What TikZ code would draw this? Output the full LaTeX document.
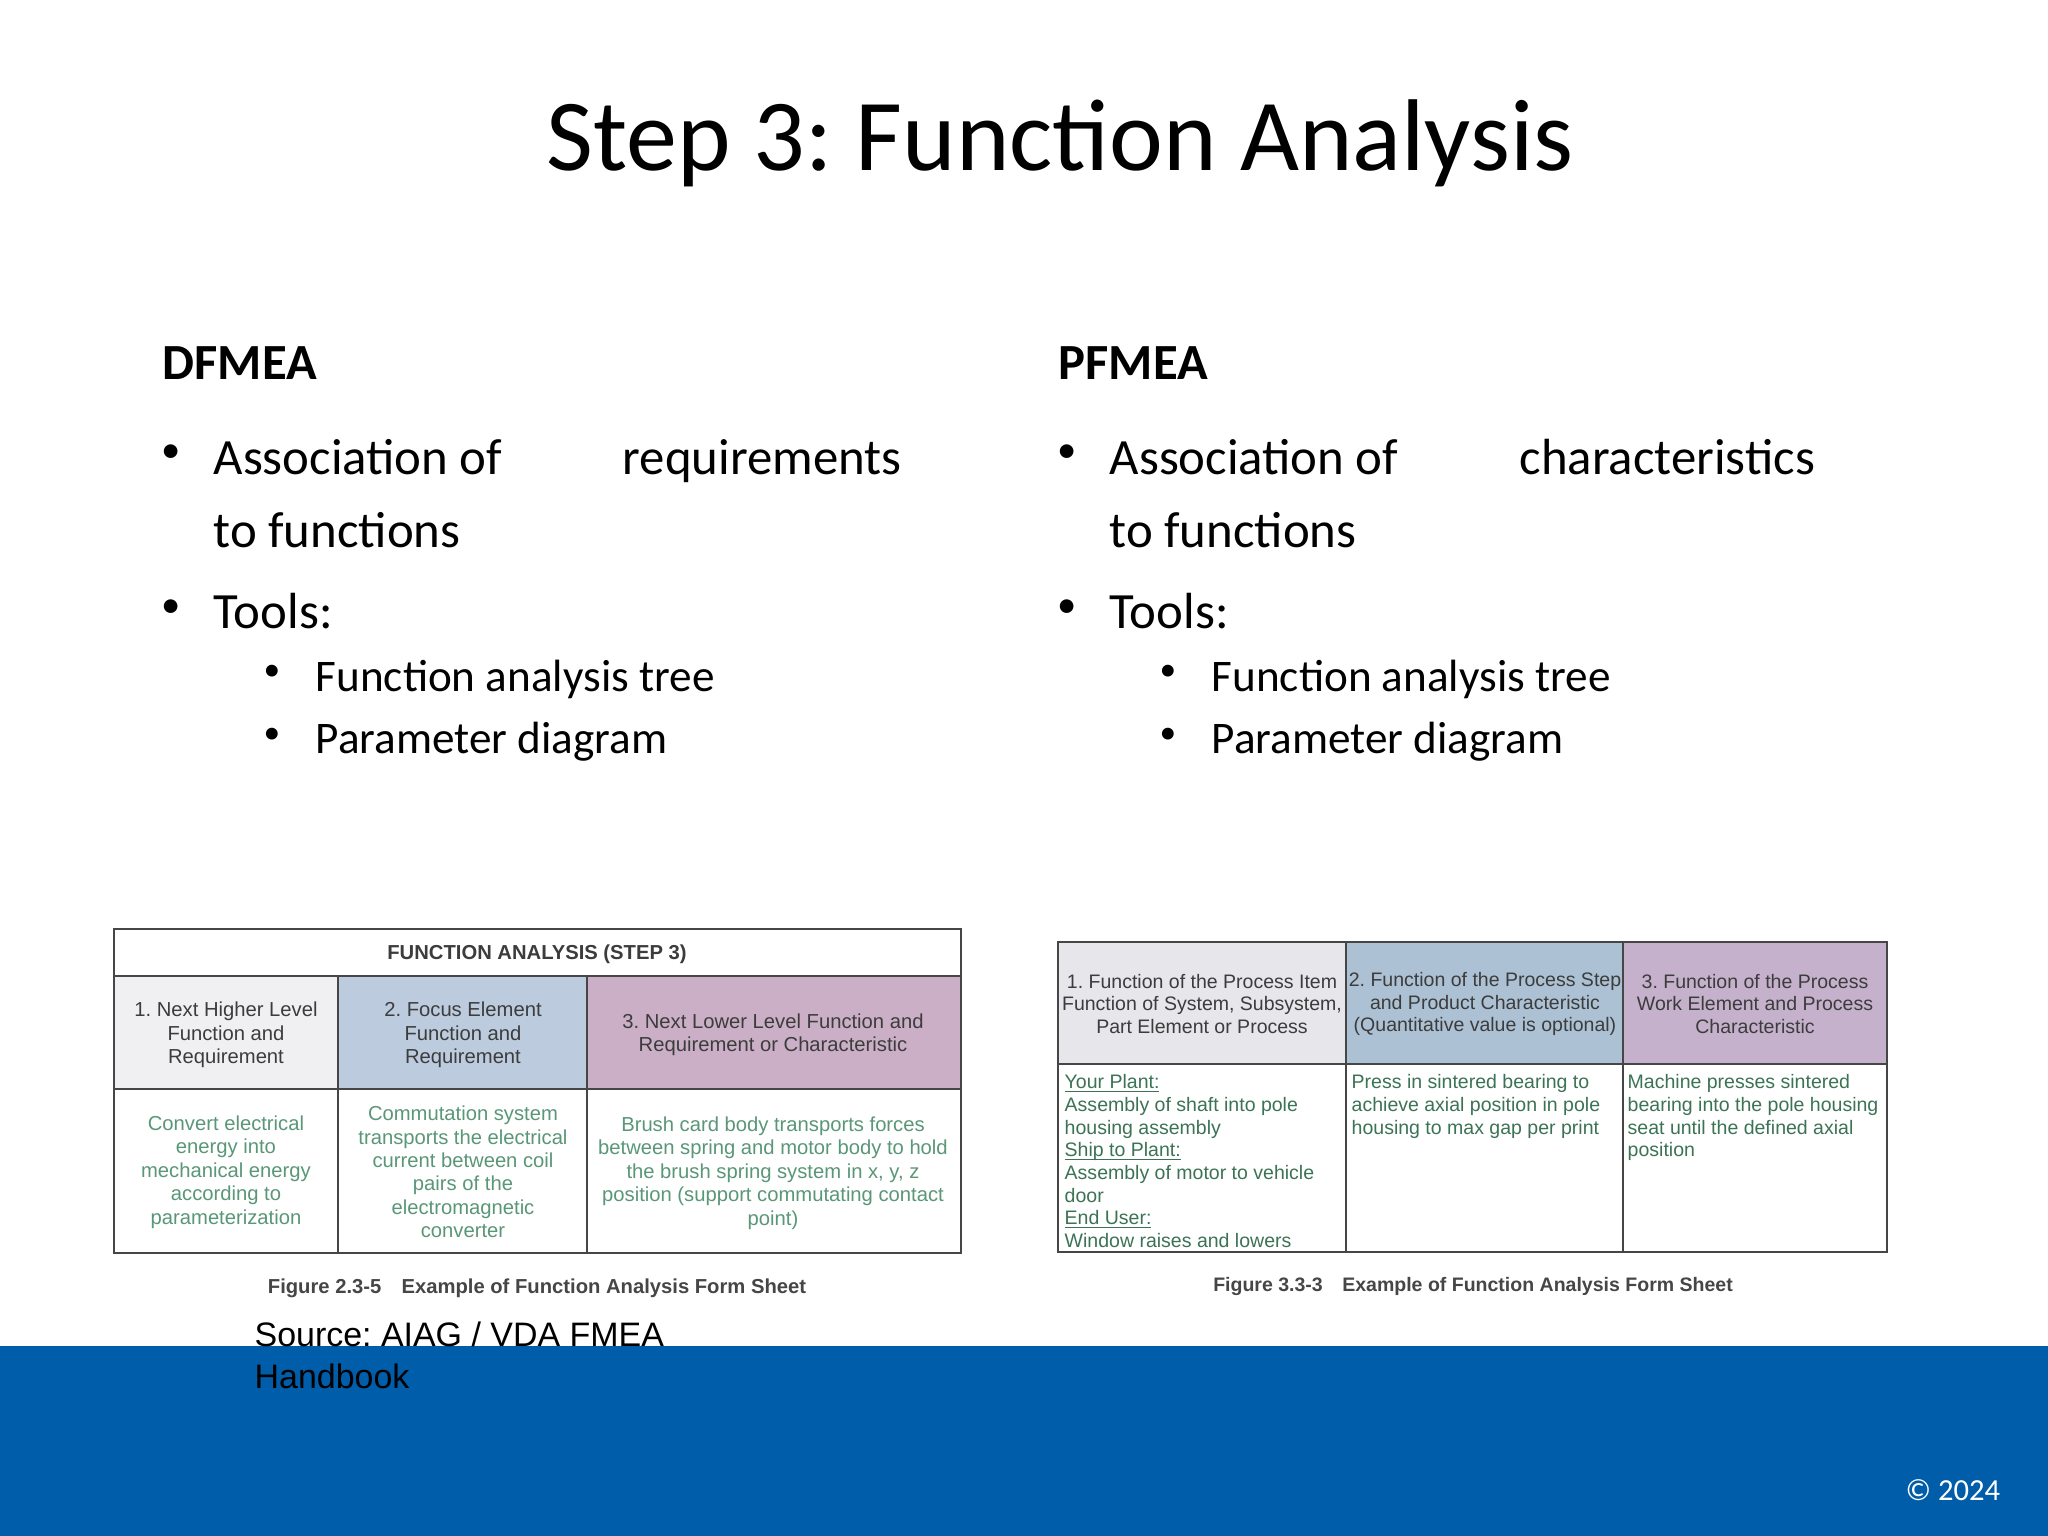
\documentclass[tikz,border=0pt]{standalone}
\usepackage{fontspec}
\setmainfont{Carlito}
\newfontfamily\tablefont{Liberation Sans}
\frenchspacing
\definecolor{bandBlue}{RGB}{0,93,170}
\definecolor{headInk}{RGB}{60,60,60}
\definecolor{bodyGreen}{RGB}{90,150,120}
\definecolor{bodyDark}{RGB}{60,115,85}
\definecolor{capInk}{RGB}{70,70,70}
\definecolor{gridInk}{RGB}{70,70,70}
\definecolor{leftA}{RGB}{240,240,242}
\definecolor{leftB}{RGB}{188,203,222}
\definecolor{leftC}{RGB}{203,175,198}
\definecolor{rightA}{RGB}{230,230,235}
\definecolor{rightB}{RGB}{172,193,212}
\definecolor{rightC}{RGB}{197,177,203}
\newcommand{\placeLabel}[1]{\vphantom{Ap}\setbox0\hbox{#1}\rlap{\rule[-0.8pt]{\wd0}{0.3pt}}\box0}
\tikzset{
    slideText/.style={inner sep=0pt, anchor=base west},
    slideTitle/.style={inner sep=0pt, anchor=base, font=\fontsize{29}{30}\selectfont},
    sideHead/.style={slideText, font=\fontsize{14.4}{16}\selectfont\bfseries},
    mainItem/.style={slideText, font=\fontsize{14.45}{16}\selectfont},
    subItem/.style={slideText, font=\fontsize{12.85}{14}\selectfont},
    tick/.style={inner sep=0pt, anchor=center, font=\fontsize{11}{11}\selectfont},
    smallTick/.style={inner sep=0pt, anchor=center, font=\fontsize{9.5}{9.5}\selectfont},
    cellText/.style={inner sep=0pt, align=center, font=\tablefont\fontsize{5.75}{6.65}\selectfont},
    cellHead/.style={cellText, text=headInk},
    cellBody/.style={cellText, text=bodyGreen},
    sheetHead/.style={inner sep=0pt, align=center, text=headInk, font=\tablefont\fontsize{5.55}{6.4}\selectfont},
    sheetBody/.style={inner sep=0pt, align=left, anchor=north west, text=bodyDark, font=\tablefont\fontsize{5.55}{6.45}\selectfont},
    figCaption/.style={inner sep=0pt, text=capInk, font=\tablefont\bfseries\fontsize{5.75}{6.4}\selectfont},
    gridLine/.style={draw=gridInk, line width=0.45pt},
}
\begin{document}
\begin{tikzpicture}[x=0.01cm, y=-0.01cm]
    \useasboundingbox (0, 0) rectangle (2048, 1536);
    \fill [white] (0, 0) rectangle (2048, 1536);
    \fill [bandBlue] (0, 1346) rectangle (2048, 1536);

    \node [slideTitle] (title) at (1060, 170) {Step 3: Function Analysis};

    % left column
    \node [sideHead] (dfmea) at (162, 379) {DFMEA};
    \node [tick] (dotA) at (171, 454) {•};
    \node [mainItem] (assocA) at (213, 474) {Association of};
    \node [mainItem] (reqWord) at (622, 474) {requirements};
    \node [mainItem] (toFuncA) at (213, 547) {to functions};
    \node [tick] (dotB) at (171, 609) {•};
    \node [mainItem] (toolsA) at (213, 628) {Tools:};
    \node [smallTick] (dotC) at (272, 673) {•};
    \node [subItem] (treeA) at (315, 691) {Function analysis tree};
    \node [smallTick] (dotD) at (272, 736) {•};
    \node [subItem] (paramA) at (315, 753) {Parameter diagram};

    % right column
    \node [sideHead] (pfmea) at (1058, 379) {PFMEA};
    \node [tick] (dotE) at (1067, 454) {•};
    \node [mainItem] (assocB) at (1109, 474) {Association of};
    \node [mainItem] (charWord) at (1519, 474) {characteristics};
    \node [mainItem] (toFuncB) at (1109, 547) {to functions};
    \node [tick] (dotF) at (1067, 609) {•};
    \node [mainItem] (toolsB) at (1109, 628) {Tools:};
    \node [smallTick] (dotG) at (1168, 673) {•};
    \node [subItem] (treeB) at (1211, 691) {Function analysis tree};
    \node [smallTick] (dotH) at (1168, 736) {•};
    \node [subItem] (paramB) at (1211, 753) {Parameter diagram};

    % left form sheet
    \fill [leftA] (114, 976) rectangle (338, 1089);
    \fill [leftB] (338, 976) rectangle (587, 1089);
    \fill [leftC] (587, 976) rectangle (961, 1089);
    \draw [gridLine] (114, 929) rectangle (961, 1253);
    \draw [gridLine] (114, 976) -- (961, 976);
    \draw [gridLine] (114, 1089) -- (961, 1089);
    \draw [gridLine] (338, 976) -- (338, 1253);
    \draw [gridLine] (587, 976) -- (587, 1253);
    \node [cellHead, font=\tablefont\bfseries\fontsize{5.75}{6.65}\selectfont] (sheetTitle) at (537, 954) {FUNCTION ANALYSIS (STEP 3)};
    \node [cellHead] (headLeftA) at (226, 1035) {1. Next Higher Level\\Function and\\Requirement};
    \node [cellHead] (headLeftB) at (463, 1035) {2. Focus Element\\Function and\\Requirement};
    \node [cellHead] (headLeftC) at (773, 1035) {3. Next Lower Level Function and\\Requirement or Characteristic};
    \node [cellBody] (bodyLeftA) at (226, 1172) {Convert electrical\\energy into\\mechanical energy\\according to\\parameterization};
    \node [cellBody] (bodyLeftB) at (463, 1172) {Commutation system\\transports the electrical\\current between coil\\pairs of the\\electromagnetic\\converter};
    \node [cellBody] (bodyLeftC) at (773, 1173) {Brush card body transports forces\\between spring and motor body to hold\\the brush spring system in x, y, z\\position (support commutating contact\\point)};
    \node [figCaption] (capLeft) at (537, 1288) {Figure 2.3-5\hspace{1em}Example of Function Analysis Form Sheet};

    % right form sheet
    \fill [rightA] (1058, 942) rectangle (1346, 1064);
    \fill [rightB] (1346, 942) rectangle (1623, 1064);
    \fill [rightC] (1623, 942) rectangle (1887, 1064);
    \draw [gridLine] (1058, 942) rectangle (1887, 1252);
    \draw [gridLine] (1058, 1064) -- (1887, 1064);
    \draw [gridLine] (1346, 942) -- (1346, 1252);
    \draw [gridLine] (1623, 942) -- (1623, 1252);
    \node [sheetHead] (headRightA) at (1202, 1004) {1. Function of the Process Item\\Function of System, Subsystem,\\Part Element or Process};
    \node [sheetHead] (headRightB) at (1485, 1004) {2. Function of the Process Step\\and Product Characteristic\\(Quantitative value is optional)};
    \node [sheetHead] (headRightC) at (1755, 1004) {3. Function of the Process\\Work Element and Process\\Characteristic};
    \node [sheetBody] (bodyRightA) at (1064, 1074) {\placeLabel{Your Plant:}\\Assembly of shaft into pole\\housing assembly\\\placeLabel{Ship to Plant:}\\Assembly of motor to vehicle\\door\\\placeLabel{End User:}\\Window raises and lowers};
    \node [sheetBody] (bodyRightB) at (1351, 1074) {Press in sintered bearing to\\achieve axial position in pole\\housing to max gap per print};
    \node [sheetBody] (bodyRightC) at (1627, 1074) {Machine presses sintered\\bearing into the pole housing\\seat until the defined axial\\position};
    \node [figCaption, font=\tablefont\bfseries\fontsize{5.55}{6.4}\selectfont] (capRight) at (1473, 1286) {Figure 3.3-3\hspace{1em}Example of Function Analysis Form Sheet};

    % footer
    \node [slideText, font=\tablefont\fontsize{9.65}{11.7}\selectfont] (source) at (254, 1346) {Source: AIAG / VDA FMEA};
    \node [slideText, font=\tablefont\fontsize{9.65}{11.7}\selectfont] (sourceTwo) at (254, 1388) {Handbook};
    \node [slideText, text=white, font=\fontsize{8.7}{9}\selectfont] (copyNote) at (1905, 1500) {© 2024};
\end{tikzpicture}
\end{document}
